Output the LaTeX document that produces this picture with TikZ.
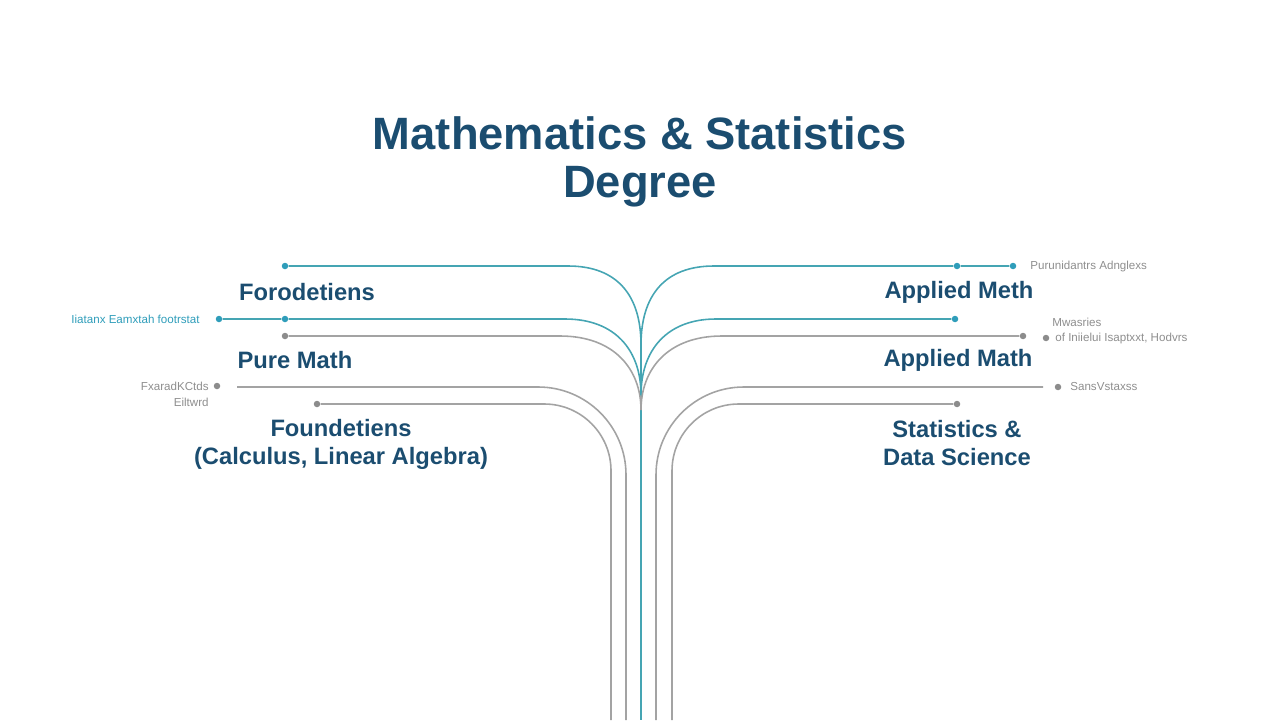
\documentclass[tikz,border=0pt]{standalone}
\usepackage{fontspec}
\setmainfont{Liberation Sans}
\usetikzlibrary{calc}
\definecolor{navy}{HTML}{1B4D70}
\definecolor{tealline}{HTML}{45A5B3}
\definecolor{tealdot}{HTML}{2F9DBA}
\definecolor{greyline}{HTML}{A3A3A3}
\definecolor{greydot}{HTML}{8C8C8C}
\definecolor{greytext}{HTML}{8E8E8E}
\tikzset{
  branch/.style={line width=0.9pt},
  dot/.style={circle,fill=#1,inner sep=0pt,minimum size=0.13cm},
  area/.style={text=navy,font=\fontsize{13.5}{16}\selectfont\bfseries,align=center},
  note/.style={font=\fontsize{6.6}{9}\selectfont,inner sep=0pt}
}

\begin{document}
\begin{tikzpicture}[x=0.02cm,y=-0.02cm]
\useasboundingbox (0,0) rectangle (1280,720);

\node[text=navy,font=\fontsize{25.8}{27.5}\selectfont\bfseries,align=center] (title) at (640,162) {Mathematics \& Statistics\\Degree};

% trunk and junctions
\coordinate (top) at (641,345);
\coordinate (mid) at (641,395);
\coordinate (low) at (641,410);
\coordinate (base) at (641,720);
\draw[tealline,branch] (top) -- (base);

% left side
\node[dot=tealdot] (l1) at (285,266) {};
\node[dot=tealdot] (l2a) at (219,319) {};
\node[dot=tealdot] (l2) at (285,319) {};
\node[dot=greydot] (l3) at (285,336) {};
\node[dot=greydot] (l4a) at (217,386) {};
\coordinate (l4) at (237,387);
\node[dot=greydot] (l5) at (317,404) {};

\draw[tealline,branch] (l1) -- (568,266) .. controls (617,266) and (641,295) .. (top);
\draw[tealline,branch] (l2a) -- (l2) -- (565,319) .. controls (615,319) and (641,350) .. (mid);
\draw[greyline,branch] (l3) -- (560,336) .. controls (615,336) and (641,370) .. (low);
\draw[greyline,branch,rounded corners=50] (l4) -- (626,387) -- (626,720);
\draw[greyline,branch,rounded corners=38] (l5) -- (611,404) -- (611,720);

% right side
\node[dot=tealdot] (r1) at (957,266) {};
\node[dot=tealdot] (r1a) at (1013,266) {};
\node[dot=tealdot] (r2) at (955,319) {};
\node[dot=greydot] (r3) at (1023,336) {};
\node[dot=greydot] (r3a) at (1046,338) {};
\coordinate (r4) at (1043,387);
\node[dot=greydot] (r4a) at (1058,387) {};
\node[dot=greydot] (r5) at (957,404) {};

\draw[tealline,branch] (r1a) -- (r1) -- (714,266) .. controls (665,266) and (641,295) .. (top);
\draw[tealline,branch] (r2) -- (716,319) .. controls (667,319) and (641,350) .. (mid);
\draw[greyline,branch] (r3) -- (722,336) .. controls (667,336) and (641,370) .. (low);
\draw[greyline,branch,rounded corners=50] (r4) -- (656,387) -- (656,720);
\draw[greyline,branch,rounded corners=38] (r5) -- (672,404) -- (672,720);

% area labels
\node[area] (found) at (307,292) {Forodetiens};
\node[area] (pure) at (295,360) {Pure Math};
\node[area] (core) at (341,444) {Foundetiens\\(Calculus, Linear Algebra)};
\node[area] (appa) at (959,292) {Applied Meth};
\node[area] (appb) at (958,360) {Applied Math};
\node[area] (stats) at (957,443) {Statistics \&\\Data Science};

% side notes
\node[note,text=tealdot,anchor=east] (n1) at (200,319) {Iiatanx Eamxtah footrstat};
\node[note,text=greytext,anchor=east,align=right] (n2) at (209,394) {FxaradKCtds\\Eiltwrd};
\node[note,text=greytext,anchor=west] (n3) at (1030,266) {Purunidantrs Adnglexs};
\node[note,text=greytext,anchor=west] (n4) at (1052,322) {Mwasries};
\node[note,text=greytext,anchor=west] (n5) at (1055,338) {of Iniielui Isaptxxt, Hodvrs};
\node[note,text=greytext,anchor=west] (n6) at (1070,387) {SansVstaxss};
\end{tikzpicture}
\end{document}
